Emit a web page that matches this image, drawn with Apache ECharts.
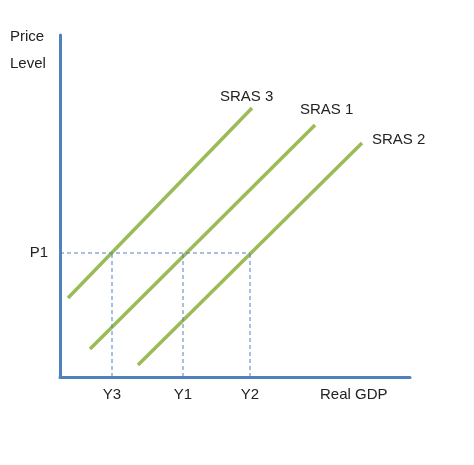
<!DOCTYPE html>
<html>
<head>
<meta charset="utf-8">
<script src="https://cdn.jsdelivr.net/npm/echarts@6/dist/echarts.min.js"></script>
<style>html,body{margin:0;padding:0;background:#fff}#chart{width:474px;height:465px}</style>
</head>
<body>
<div id="chart"></div>
<script>
// curve end points, [x, y] in axis units
var sras3 = [[8, 79], [192, 269]];
var sras1 = [[30, 28], [255, 252]];
var sras2 = [[78, 12], [302, 234]];
var p1 = 124;
var yTicks = [52, 123, 190];
var yNames = ['Y3', 'Y1', 'Y2'];

var green = '#9bbb59';
var blue = '#4f81bd';
var font = 'Liberation Sans';

function curve(name, pts, off) {
    return {
        name: name, type: 'line', data: pts, symbol: 'none',
        lineStyle: {color: green, width: 3.5},
        endLabel: {show: true, formatter: name, color: '#222', fontSize: 15, fontFamily: font, offset: off}
    };
}
function dash(pts) {
    return {type: 'line', data: pts, symbol: 'none', silent: true,
        lineStyle: {color: blue, width: 1, type: [4, 3]}};
}

var series = [
    curve('SRAS 3', sras3, [-40, -11]),
    curve('SRAS 1', sras1, [-23, -15]),
    curve('SRAS 2', sras2, [2, -3])
];
series.push(dash([[0, p1], [yTicks[2], p1]]));
yTicks.forEach(function (x) { series.push(dash([[x, 0], [x, p1]])); });

var myChart = echarts.init(document.getElementById('chart'));
myChart.setOption({
    animation: false,
    grid: {left: 60, top: 35, width: 350, height: 342},
    xAxis: {
        type: 'value', min: 0, max: 350,
        splitLine: {show: false},
        axisLine: {lineStyle: {color: blue, width: 3}},
        axisTick: {show: false},
        axisLabel: {
            customValues: yTicks, color: '#222', fontSize: 15, fontFamily: font, margin: 10,
            formatter: function (v) { return yNames[yTicks.indexOf(v)]; }
        },
        name: 'Real GDP', nameLocation: 'end', nameGap: -90,
        nameTextStyle: {color: '#222', fontSize: 15, fontFamily: font, verticalAlign: 'top', padding: [10, 0, 0, 0]}
    },
    yAxis: {
        type: 'value', min: 0, max: 342,
        splitLine: {show: false},
        axisLine: {lineStyle: {color: blue, width: 3}},
        axisTick: {show: false},
        axisLabel: {
            customValues: [p1], color: '#222', fontSize: 15, fontFamily: font, margin: 12,
            formatter: function () { return 'P1'; }
        },
        name: 'Price\nLevel', nameLocation: 'end', nameGap: -42,
        nameTextStyle: {color: '#222', fontSize: 15, fontFamily: font, lineHeight: 27, align: 'left', padding: [0, 0, 0, -50]}
    },
    series: series
});
</script>
</body>
</html>
